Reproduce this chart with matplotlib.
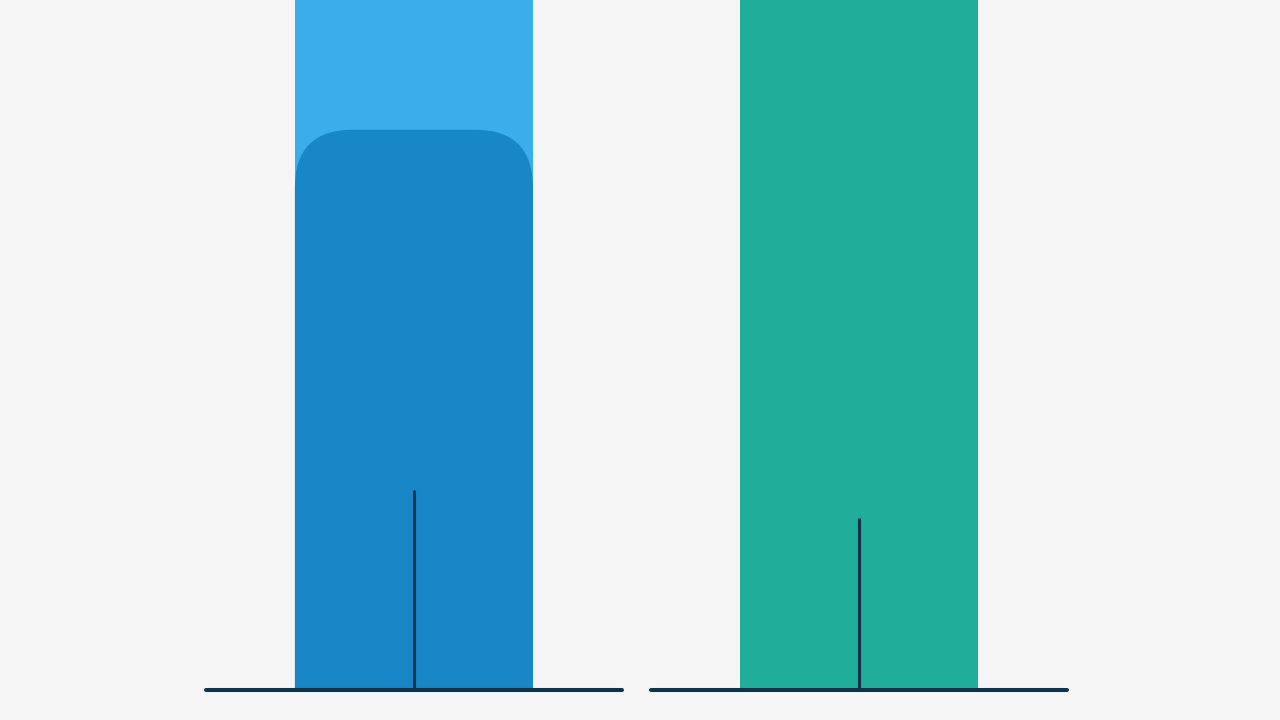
""" Two-bar comparison with markers, recreated in matplotlib. """

import matplotlib
matplotlib.use("Agg")
import matplotlib.pyplot as plt
from matplotlib.patches import FancyBboxPatch

# data
categories = ["A", "B"]
back_values = [110, 110]      # full-height background bars (run off the top)
front_values = [81.2, None]   # rounded inner bar, only on the first category
marker_values = [29.0, 24.9]  # thin vertical marker lines

BG = "#f5f5f5"
back_colors = ["#3aaeea", "#20ae9a"]
front_color = "#1787c8"
line_color = "#10324a"

BAR_W = 0.535
BASE_HALF = 0.467


def plot(filename="out.png"):
    fig = plt.figure(figsize=(12.8, 7.2), dpi=100)
    fig.patch.set_facecolor(BG)
    ax = fig.add_axes([0, 0, 1, 1])
    ax.set_facecolor(BG)
    ax.set_xlim(-0.930, 1.946)
    ax.set_ylim(-4.35, 100)
    ax.axis("off")

    xs = list(range(len(categories)))
    ax.bar(xs, back_values, width=BAR_W, color=back_colors, zorder=1)

    # rounded front bar, corner radius ~58 px
    x_px = fig.get_figwidth() * fig.dpi / (1.946 + 0.930)
    y_px = fig.get_figheight() * fig.dpi / (100 + 4.35)
    r = 58 / x_px
    for x, v in zip(xs, front_values):
        if v is None:
            continue
        p = FancyBboxPatch((x - BAR_W / 2 + r, -20), BAR_W - 2 * r, v + 20 - r * (x_px / y_px),
                           boxstyle="round,pad={0},rounding_size={0}".format(r),
                           mutation_aspect=x_px / y_px,
                           facecolor=front_color, edgecolor="none", zorder=2)
        ax.add_patch(p)

    # hide anything below the baseline
    ax.axhspan(-10, 0, color=BG, zorder=3)

    for x, m in zip(xs, marker_values):
        ax.vlines(x, 0, m, color=line_color, lw=2.2, zorder=4)
        ax.hlines(0, x - BASE_HALF, x + BASE_HALF, color=line_color, lw=2.9,
                  capstyle="round", zorder=4)

    fig.savefig(filename, dpi=100, facecolor=BG)


if __name__ == "__main__":
    plot()
